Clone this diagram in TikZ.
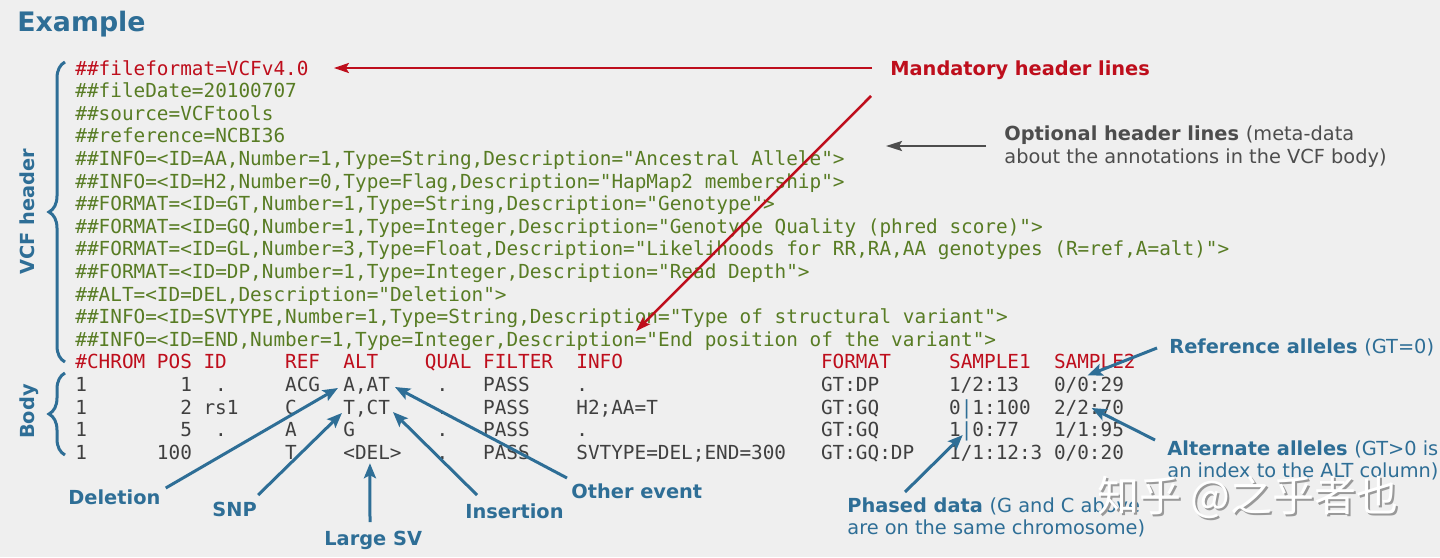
\documentclass[tikz,border=0pt]{standalone}
\usepackage{fontspec}
\setmainfont{DejaVu Sans}
\setmonofont{DejaVu Sans Mono}
\newfontfamily\cjkfont{Noto Sans CJK SC}
\usetikzlibrary{arrows.meta,decorations.pathreplacing,calc}
\definecolor{bgc}{RGB}{239,239,239}
\definecolor{vred}{RGB}{190,14,28}
\definecolor{vgreen}{RGB}{88,124,36}
\definecolor{vgray}{RGB}{64,64,64}
\definecolor{vblue}{RGB}{46,110,150}
\definecolor{ogray}{RGB}{77,77,77}
\def\cw{11.65}
\newcommand\vf[5]{\node[#1] (#2) at ({75+#3*\cw},#4) {#5};}
\begin{document}
\begin{tikzpicture}[x=0.5pt,y=-0.5pt,
  code/.style={font=\ttfamily\fontsize{9.68}{11}\selectfont, inner sep=0pt, anchor=base west},
  hdr/.style={code, text=vgreen},
  req/.style={code, text=vred},
  bod/.style={code, text=vgray},
  lbl/.style={font=\bfseries\fontsize{9.68}{11}\selectfont, text=vblue, inner sep=0pt, anchor=base west},
  lblred/.style={lbl, text=vred},
  lblgray/.style={lbl, text=ogray},
  sidelbl/.style={font=\bfseries\fontsize{9.68}{11}\selectfont, text=vblue, inner sep=0pt, anchor=base, rotate=90},
  bluearrow/.style={draw=vblue, line width=1.5pt, -{Stealth[length=7.5pt,width=6pt,inset=1.5pt]}},
  redarrow/.style={draw=vred, line width=1.25pt, -{Stealth[length=7.5pt,width=5pt,inset=1.5pt]}},
  grayarrow/.style={draw=ogray, line width=1.25pt, -{Stealth[length=8pt,width=5pt,inset=1.5pt]}},
  bracestyle/.style={draw=vblue, line width=1.5pt, decorate, decoration={brace, amplitude=8pt}},
  wm/.style={font=\cjkfont\fontsize{21}{21}\selectfont, inner sep=0pt, anchor=base}
]
\useasboundingbox (0,0) rectangle (1440,557);
\fill[bgc] (0,0) rectangle (1440,557);

% title
\node[font=\bfseries\fontsize{13.4}{16}\selectfont, text=vblue, inner sep=0pt, anchor=base west] (title) at (17,32) {Example};

% header lines
\node[req] (h0) at (75,75) {\#\#fileformat=VCFv4.0};
\node[hdr] (h1) at (75,97.6) {\#\#fileDate=20100707};
\node[hdr] (h2) at (75,120.2) {\#\#source=VCFtools};
\node[hdr] (h3) at (75,142.8) {\#\#reference=NCBI36};
\node[hdr] (h4) at (75,165.4) {\#\#INFO=<ID=AA,Number=1,Type=String,Description="Ancestral Allele">};
\node[hdr] (h5) at (75,188) {\#\#INFO=<ID=H2,Number=0,Type=Flag,Description="HapMap2 membership">};
\node[hdr] (h6) at (75,210.6) {\#\#FORMAT=<ID=GT,Number=1,Type=String,Description="Genotype">};
\node[hdr] (h7) at (75,233.2) {\#\#FORMAT=<ID=GQ,Number=1,Type=Integer,Description="Genotype Quality (phred score)">};
\node[hdr] (h8) at (75,255.8) {\#\#FORMAT=<ID=GL,Number=3,Type=Float,Description="Likelihoods for RR,RA,AA genotypes (R=ref,A=alt)">};
\node[hdr] (h9) at (75,278.4) {\#\#FORMAT=<ID=DP,Number=1,Type=Integer,Description="Read Depth">};
\node[hdr] (h10) at (75,301) {\#\#ALT=<ID=DEL,Description="Deletion">};
\node[hdr] (h11) at (75,323.6) {\#\#INFO=<ID=SVTYPE,Number=1,Type=String,Description="Type of structural variant">};
\node[hdr] (h12) at (75,346.2) {\#\#INFO=<ID=END,Number=1,Type=Integer,Description="End position of the variant">};

% column header
\vf{req}{c0}{0}{368.8}{\#CHROM}
\vf{req}{c1}{7}{368.8}{POS}
\vf{req}{c2}{11}{368.8}{ID}
\vf{req}{c3}{18}{368.8}{REF}
\vf{req}{c4}{23}{368.8}{ALT}
\vf{req}{c5}{30}{368.8}{QUAL}
\vf{req}{c6}{35}{368.8}{FILTER}
\vf{req}{c7}{43}{368.8}{INFO}
\vf{req}{c8}{64}{368.8}{FORMAT}
\vf{req}{c9}{75}{368.8}{SAMPLE1}
\vf{req}{c10}{84}{368.8}{SAMPLE2}

% body row 1
\vf{bod}{r1c0}{0}{391.4}{1}
\vf{bod}{r1c1}{9}{391.4}{1}
\vf{bod}{r1c2}{12}{391.4}{.}
\vf{bod}{r1c3}{18}{391.4}{ACG}
\vf{bod}{r1c4}{23}{391.4}{A,AT}
\vf{bod}{r1c5}{31}{391.4}{.}
\vf{bod}{r1c6}{35}{391.4}{PASS}
\vf{bod}{r1c7}{43}{391.4}{.}
\vf{bod}{r1c8}{64}{391.4}{GT:DP}
\vf{bod}{r1c9}{75}{391.4}{1/2:13}
\vf{bod}{r1c10}{84}{391.4}{0/0:29}
% row 2
\vf{bod}{r2c0}{0}{414}{1}
\vf{bod}{r2c1}{9}{414}{2}
\vf{bod}{r2c2}{11}{414}{rs1}
\vf{bod}{r2c3}{18}{414}{C}
\vf{bod}{r2c4}{23}{414}{T,CT}
\vf{bod}{r2c5}{31}{414}{.}
\vf{bod}{r2c6}{35}{414}{PASS}
\vf{bod}{r2c7}{43}{414}{H2;AA=T}
\vf{bod}{r2c8}{64}{414}{GT:GQ}
\vf{bod}{r2c9}{75}{414}{0{\color{vblue}|}1:100}
\vf{bod}{r2c10}{84}{414}{2/2:70}
% row 3
\vf{bod}{r3c0}{0}{436.6}{1}
\vf{bod}{r3c1}{9}{436.6}{5}
\vf{bod}{r3c2}{12}{436.6}{.}
\vf{bod}{r3c3}{18}{436.6}{A}
\vf{bod}{r3c4}{23}{436.6}{G}
\vf{bod}{r3c5}{31}{436.6}{.}
\vf{bod}{r3c6}{35}{436.6}{PASS}
\vf{bod}{r3c7}{43}{436.6}{.}
\vf{bod}{r3c8}{64}{436.6}{GT:GQ}
\vf{bod}{r3c9}{75}{436.6}{1{\color{vblue}|}0:77}
\vf{bod}{r3c10}{84}{436.6}{1/1:95}
% row 4
\vf{bod}{r4c0}{0}{459.2}{1}
\vf{bod}{r4c1}{7}{459.2}{100}
\vf{bod}{r4c3}{18}{459.2}{T}
\vf{bod}{r4c4}{23}{459.2}{<DEL>}
\vf{bod}{r4c5}{31}{459.2}{.}
\vf{bod}{r4c6}{35}{459.2}{PASS}
\vf{bod}{r4c7}{43}{459.2}{SVTYPE=DEL;END=300}
\vf{bod}{r4c8}{64}{459.2}{GT:GQ:DP}
\vf{bod}{r4c9}{75}{459.2}{1/1:12:3}
\vf{bod}{r4c10}{84}{459.2}{0/0:20}

% braces and side labels
\coordinate (hb-bot) at (65,362);
\coordinate (hb-top) at (65,62);
\coordinate (bb-bot) at (65,455);
\coordinate (bb-top) at (65,373);
\draw[bracestyle] (hb-bot) -- (hb-top);
\draw[bracestyle] (bb-bot) -- (bb-top);
\node[sidelbl] (vcfh) at (34.5,212) {VCF header};
\node[sidelbl] (bodyl) at (34.5,411.5) {Body};

% right-hand labels
\node[lblred] (mand) at (890,75) {Mandatory header lines};
\node[lblgray] (opt1) at (1004,140) {Optional header lines {\mdseries (meta-data}};
\node[lblgray] (opt2) at (1004,163) {\mdseries about the annotations in the VCF body)};
\node[lbl] (refl) at (1169,353) {Reference alleles {\mdseries (GT=0)}};
\node[lbl] (alt1) at (1167,455) {Alternate alleles {\mdseries (GT>0 is}};
\node[lbl] (alt2) at (1167,477.5) {\mdseries an index to the ALT column)};
\node[lbl] (ph1) at (847,512) {Phased data {\mdseries (G and C above}};
\node[lbl] (ph2) at (847,534.5) {\mdseries are on the same chromosome)};

% bottom labels
\node[lbl] (del) at (68,504) {Deletion};
\node[lbl] (snp) at (212,516) {SNP};
\node[lbl] (lsv) at (324,545) {Large SV};
\node[lbl] (ins) at (465,518) {Insertion};
\node[lbl] (oth) at (571,498) {Other event};

% watermark
\node[wm, text=black!40] (wmshadow) at (1250,513) {知乎 @之乎者也};
\node[wm, text=white] (wmark) at (1248,511) {知乎 @之乎者也};

% arrows
\draw[redarrow] ($(mand.base west)+(-18,-7)$) -- ($(h0.base east)+(25,-7)$);
\draw[redarrow] ($(mand.base west)+(-19,21)$) -- ($(h12.base west)+(561,-15)$);
\draw[grayarrow] ($(opt1.base west)+(-18,6)$) -- ($(opt1.base west)+(-118,6)$);

\draw[bluearrow] ($(del.base east)+(5,-16)$) -- ($(r1c4.base west)+(-5,-3.4)$);
\draw[bluearrow] ($(snp.base east)+(1,-21)$) -- ($(r2c4.base west)+(-1,-1)$);
\draw[bluearrow] ($(lsv.base west)+(46,-23)$) -- ($(r4c4.base west)+(27,4)$);
\draw[bluearrow] ($(ins.base west)+(12,-23)$) -- ($(r2c4.base west)+(50,-2)$);
\draw[bluearrow] ($(oth.base west)+(-4,-20)$) -- ($(r1c4.base west)+(52,-4.4)$);
\draw[bluearrow] ($(ph1.base west)+(58,-20)$) -- ($(r3c9.base west)+(14,-1.6)$);
\draw[bluearrow] ($(refl.base west)+(-12,-5)$) -- ($(r1c10.base west)+(34,-16)$);
\draw[bluearrow] ($(alt1.base west)+(-12,-15)$) -- ($(r2c10.base west)+(38,-6)$);
\end{tikzpicture}
\end{document}
